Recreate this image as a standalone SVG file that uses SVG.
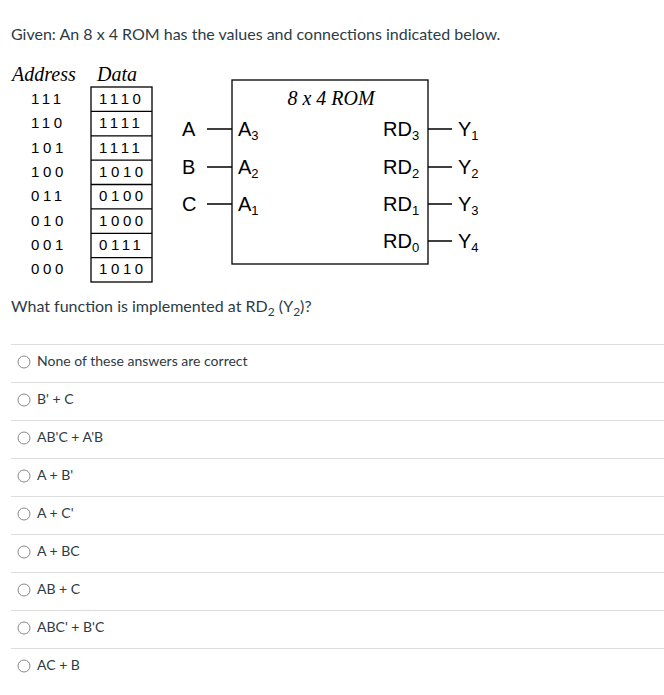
<svg xmlns="http://www.w3.org/2000/svg" width="664" height="695" viewBox="0 0 664 695">
<style>
.q{font-family:Lato,"Liberation Sans",sans-serif;font-size:14px;fill:#2d3b45}
.h{font-size:16px}
.t{font-family:"Liberation Serif",serif;font-style:italic;font-size:20px;fill:#000}
.m{font-family:"Liberation Sans",Arial,sans-serif;font-size:15px;fill:#000;letter-spacing:3.6px}
.s{font-family:"Liberation Sans",Arial,sans-serif;font-size:20px;fill:#000}
.sub{font-size:13px}
.b{fill:none;stroke:#000;stroke-width:1.3}
.sep{stroke:#ddd;stroke-width:1}
.r{fill:#fff;stroke:#888;stroke-width:1}
</style>
<rect width="664" height="695" fill="#fff"/>
<text class="q h" x="11" y="40">Given: An 8 x 4 ROM has the values and connections indicated below.</text>
<g id="table">
<text class="t" x="12" y="81">Address</text><text class="t" x="97" y="81">Data</text>
<g class="m">
<text x="31" y="104">111</text><text x="31" y="128">110</text><text x="31" y="153">101</text><text x="31" y="177">100</text>
<text x="31" y="201">011</text><text x="31" y="226">010</text><text x="31" y="250">001</text><text x="31" y="274">000</text>
<text x="99" y="104">1110</text><text x="99" y="128">1111</text><text x="99" y="153">1111</text><text x="99" y="177">1010</text>
<text x="99" y="201">0100</text><text x="99" y="226">1000</text><text x="99" y="250">0111</text><text x="99" y="274">1010</text>
</g>
<rect class="b" x="91" y="87" width="61" height="195"/>
<path class="b" d="M91 111.4H152M91 135.8H152M91 160.1H152M91 184.5H152M91 208.9H152M91 233.3H152M91 257.6H152"/>
</g>
<g id="rom">
<rect class="b" x="232" y="80" width="196" height="184"/>
<text class="t" x="331" y="105" text-anchor="middle">8 x 4 ROM</text>
<text class="s" x="238" y="136">A<tspan class="sub" dy="4">3</tspan></text>
<text class="s" x="238" y="174">A<tspan class="sub" dy="4">2</tspan></text>
<text class="s" x="238" y="211">A<tspan class="sub" dy="4">1</tspan></text>
<text class="s" x="383" y="136">RD<tspan class="sub" dy="4">3</tspan></text>
<text class="s" x="383" y="174">RD<tspan class="sub" dy="4">2</tspan></text>
<text class="s" x="383" y="211">RD<tspan class="sub" dy="4">1</tspan></text>
<text class="s" x="383" y="248">RD<tspan class="sub" dy="4">0</tspan></text>
</g>
<g id="connectors">
<path class="b" d="M207 129H232M207 167H232M207 204H232M428 129H452M428 167H452M428 204H452M428 241H452"/>
<text class="s" x="182" y="136">A</text><text class="s" x="182" y="174">B</text><text class="s" x="182" y="211">C</text>
<text class="s" x="458" y="136">Y<tspan class="sub" dy="4">1</tspan></text>
<text class="s" x="458" y="174">Y<tspan class="sub" dy="4">2</tspan></text>
<text class="s" x="458" y="211">Y<tspan class="sub" dy="4">3</tspan></text>
<text class="s" x="458" y="248">Y<tspan class="sub" dy="4">4</tspan></text>
</g>
<text class="q h" x="11" y="312">What function is implemented at RD<tspan style="font-size:12px" dy="4">2</tspan><tspan dy="-4"> (Y</tspan><tspan style="font-size:12px" dy="4">2</tspan><tspan dy="-4">)?</tspan></text>
<g id="options">
<path class="sep" d="M11 344.5H664M11 382.5H664M11 420.5H664M11 458.5H664M11 496.5H664M11 534.5H664M11 572.5H664M11 610.5H664M11 648.5H664"/>
<circle class="r" cx="24" cy="362" r="6"/><text class="q" x="37" y="366">None of these answers are correct</text>
<circle class="r" cx="24" cy="400" r="6"/><text class="q" x="37" y="404">B' + C</text>
<circle class="r" cx="24" cy="438" r="6"/><text class="q" x="37" y="442">AB'C + A'B</text>
<circle class="r" cx="24" cy="476" r="6"/><text class="q" x="37" y="480">A + B'</text>
<circle class="r" cx="24" cy="514" r="6"/><text class="q" x="37" y="518">A + C'</text>
<circle class="r" cx="24" cy="552" r="6"/><text class="q" x="37" y="556">A + BC</text>
<circle class="r" cx="24" cy="590" r="6"/><text class="q" x="37" y="594">AB + C</text>
<circle class="r" cx="24" cy="628" r="6"/><text class="q" x="37" y="632">ABC' + B'C</text>
<circle class="r" cx="24" cy="666" r="6"/><text class="q" x="37" y="670">AC + B</text>
</g>
</svg>
